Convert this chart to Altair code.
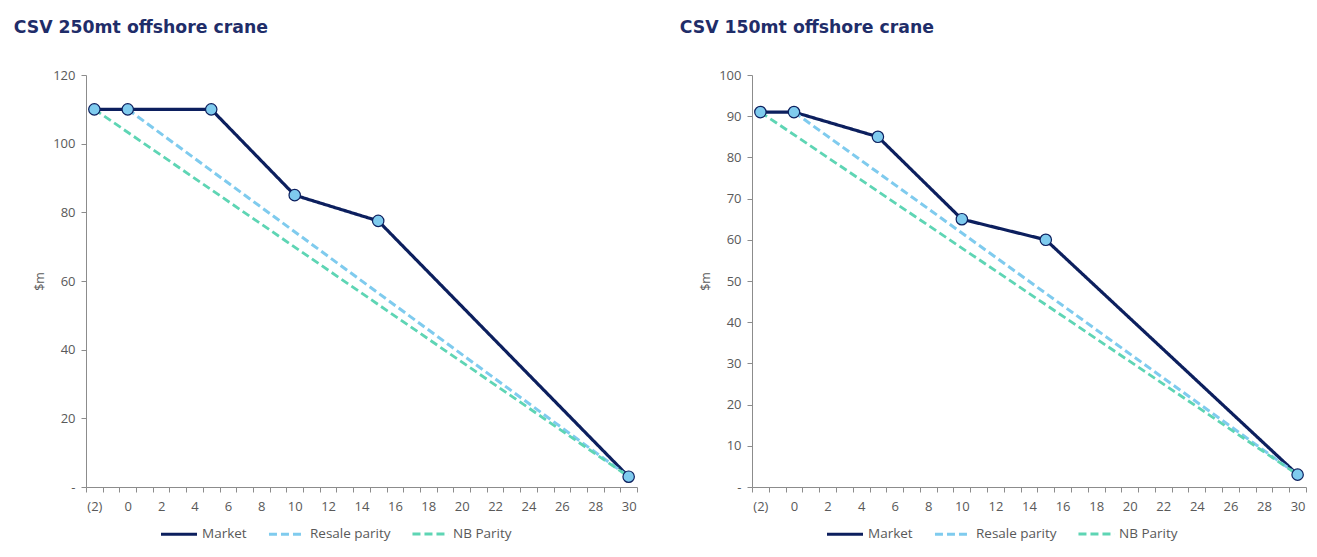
import altair as alt
import pandas as pd

# ---------------- data ----------------
series_names = ["Market", "Resale parity", "NB Parity"]

market_years = [-2, 0, 5, 10, 15, 30]
resale_years = [0, 30]
nb_years = [-2, 30]

left_title = "CSV 250mt offshore crane"
left_market = [110, 110, 110, 85, 77.5, 3]
left_resale = [110, 3]
left_nb = [110, 3]
left_y_ticks = [0, 20, 40, 60, 80, 100, 120]

right_title = "CSV 150mt offshore crane"
right_market = [91, 91, 85, 65, 60, 3]
right_resale = [91, 3]
right_nb = [91, 3]
right_y_ticks = [0, 10, 20, 30, 40, 50, 60, 70, 80, 90, 100]

x_ticks = [v - 0.5 for v in range(-2, 32)]  # category boundaries

NAVY = "#0C1F5E"
LIGHT = "#7FCBEE"
MINT = "#5ED5B4"
GREY = "#595959"
AXIS_GREY = "#8C8C8C"
FONT = "Open Sans"

PH = 412


def build_df(market, resale, nb):
    rows = []
    for x, y in zip(market_years, market):
        rows.append({"year": x, "value": y, "series": "Market"})
    for x, y in zip(resale_years, resale):
        rows.append({"year": x, "value": y, "series": "Resale parity"})
    for x, y in zip(nb_years, nb):
        rows.append({"year": x, "value": y, "series": "NB Parity"})
    return pd.DataFrame(rows)


def panel(title, market, resale, nb, y_ticks, pw):
    df = build_df(market, resale, nb)
    xscale = alt.Scale(domain=[-2.5, 30.5], nice=False, zero=False)
    yscale = alt.Scale(domain=[y_ticks[0], y_ticks[-1]], nice=False)
    xaxis = alt.Axis(
        values=x_ticks,
        labelExpr="((datum.value + 0.5) % 2 == 0) ? ((datum.value + 0.5) < 0 ? '(' + abs(datum.value + 0.5) + ')' : '' + (datum.value + 0.5)) : ''",
        labelOffset=pw / 33 / 2,
        labelOverlap=False,
        labelFlush=False,
        labelBound=False,
        grid=False,
        title=None,
        tickSize=5,
        labelPadding=8,
    )
    yaxis = alt.Axis(
        values=y_ticks,
        labelExpr="datum.value == 0 ? '-' : datum.label",
        labelOverlap=False,
        grid=False,
        title="$m",
        tickSize=5,
        labelPadding=6,
        titlePadding=6,
    )
    color = alt.Color(
        "series:N",
        scale=alt.Scale(domain=series_names, range=[NAVY, LIGHT, MINT]),
        legend=alt.Legend(
            title=None,
            orient="none",
            legendX=73,
            legendY=PH + 27,
            direction="horizontal",
            symbolType="stroke",
            symbolSize=1300,
            symbolStrokeWidth=3.5,
            labelFont=FONT,
            labelFontSize=13.5,
            labelColor=GREY,
            labelOffset=3,
            columnPadding=15,
        ),
    )
    dash = alt.StrokeDash(
        "series:N",
        scale=alt.Scale(domain=series_names, range=[[1, 0], [8, 4], [8, 4]]),
        legend=None,
    )
    width = alt.StrokeWidth(
        "series:N",
        scale=alt.Scale(domain=series_names, range=[3.2, 2.8, 2.8]),
        legend=None,
    )
    lines = alt.Chart(df).mark_line().encode(
        x=alt.X("year:Q", scale=xscale, axis=xaxis),
        y=alt.Y("value:Q", scale=yscale, axis=yaxis),
        color=color,
        strokeDash=dash,
        strokeWidth=width,
        order=alt.Order("year:Q"),
    )
    pts = alt.Chart(df).transform_filter(alt.datum.series == "Market").mark_point(
        filled=True, fill=LIGHT, stroke=NAVY, strokeWidth=1.2, size=130, opacity=1
    ).encode(
        x=alt.X("year:Q", scale=xscale, axis=xaxis),
        y=alt.Y("value:Q", scale=yscale, axis=yaxis),
    )
    return alt.layer(lines, pts).properties(
        width=pw,
        height=PH,
        title=alt.TitleParams(
            title,
            anchor="start",
            font="DejaVu Sans",
            fontSize=17.3,
            fontWeight="bold",
            color="#1F2D69",
            dx=-20,
            offset=33,
        ),
    )


left = panel(left_title, left_market, left_resale, left_nb, left_y_ticks, 551)
right = panel(right_title, right_market, right_resale, right_nb, right_y_ticks, 554)

chart = alt.hconcat(left, right, spacing=33).properties(
    padding={"left": 13, "top": 18, "right": 2, "bottom": 2},
    background="white",
).configure_view(stroke=None).configure_axis(
    labelFont=FONT,
    labelFontSize=13,
    labelColor=GREY,
    titleFont=FONT,
    titleFontSize=12.5,
    titleFontWeight="normal",
    titleColor=GREY,
    domainColor=AXIS_GREY,
    tickColor=AXIS_GREY,
).resolve_scale(color="independent", strokeDash="independent", strokeWidth="independent")

chart.save("out.html", embed_options={"renderer": "svg", "actions": False})
